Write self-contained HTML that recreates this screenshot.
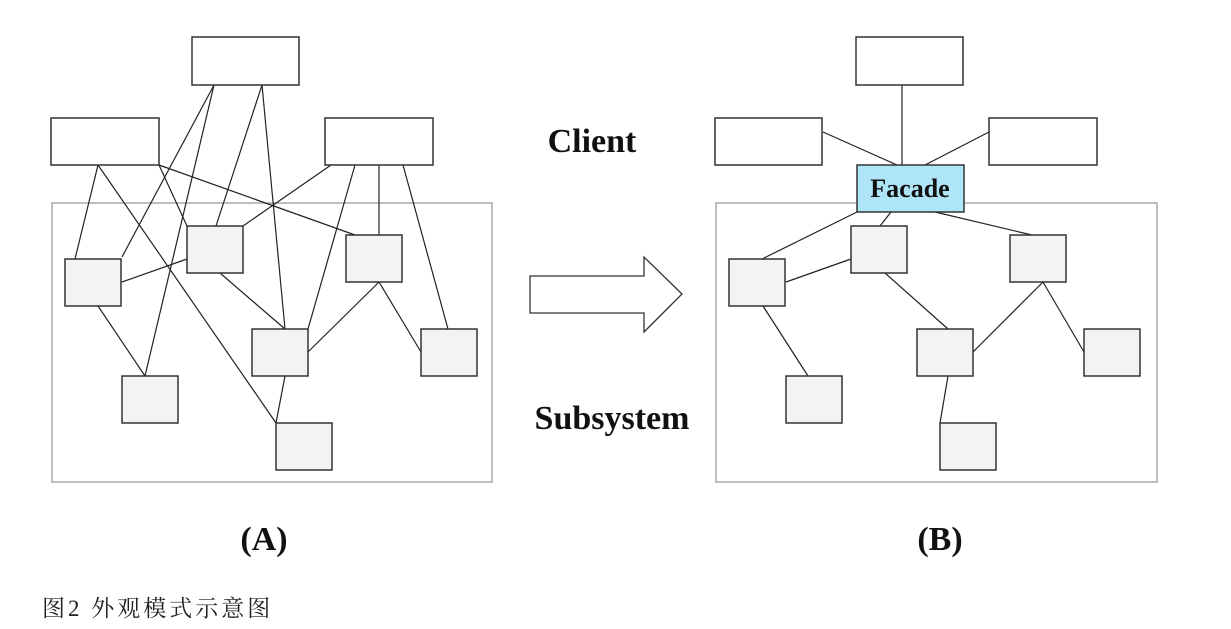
<!DOCTYPE html>
<html><head><meta charset="utf-8"><style>
html,body{margin:0;padding:0;background:#fff;}
svg{display:block}
</style></head><body>
<svg width="1231" height="629" xmlns="http://www.w3.org/2000/svg">
<g fill="none" stroke="#a8a8a8" stroke-width="1.5">
<rect x="52" y="203" width="440" height="279"/>
<rect x="716" y="203" width="441" height="279"/>
</g>
<g stroke="#222" stroke-width="1.2" fill="none">
<line x1="214" y1="85" x2="122" y2="257"/>
<line x1="214" y1="85" x2="145" y2="376"/>
<line x1="262" y1="85" x2="216" y2="226"/>
<line x1="262" y1="85" x2="285" y2="329"/>
<line x1="98" y1="165" x2="75" y2="259"/>
<line x1="98" y1="165" x2="276" y2="423"/>
<line x1="159" y1="165" x2="187" y2="226"/>
<line x1="159" y1="165" x2="355" y2="235"/>
<line x1="331" y1="165" x2="243" y2="226"/>
<line x1="355" y1="165" x2="308" y2="329"/>
<line x1="379" y1="165" x2="379" y2="235"/>
<line x1="403" y1="165" x2="448" y2="329"/>
<line x1="122" y1="282" x2="187" y2="259"/>
<line x1="98" y1="306" x2="145" y2="376"/>
<line x1="220" y1="273" x2="285" y2="329"/>
<line x1="379" y1="282" x2="308" y2="352"/>
<line x1="379" y1="282" x2="421" y2="352"/>
<line x1="285" y1="376" x2="276" y2="423"/>
<line x1="902" y1="85" x2="902" y2="165"/>
<line x1="823" y1="132" x2="897" y2="165"/>
<line x1="989" y1="132" x2="925" y2="165"/>
<line x1="857" y1="212" x2="762" y2="259"/>
<line x1="891" y1="212" x2="880" y2="226"/>
<line x1="935" y1="212" x2="1032" y2="235"/>
<line x1="786" y1="282" x2="851" y2="259"/>
<line x1="763" y1="306" x2="808" y2="376"/>
<line x1="885" y1="273" x2="948" y2="329"/>
<line x1="1043" y1="282" x2="973" y2="352"/>
<line x1="1043" y1="282" x2="1084" y2="352"/>
<line x1="948" y1="376" x2="940" y2="423"/>
</g>
<g stroke="#333" stroke-width="1.5" fill="#fff">
<rect x="192" y="37" width="107" height="48"/>
<rect x="51" y="118" width="108" height="47"/>
<rect x="325" y="118" width="108" height="47"/>
<rect x="856" y="37" width="107" height="48"/>
<rect x="715" y="118" width="107" height="47"/>
<rect x="989" y="118" width="108" height="47"/>
</g>
<g stroke="#333" stroke-width="1.5" fill="#f3f3f3">
<rect x="65" y="259" width="56" height="47"/>
<rect x="187" y="226" width="56" height="47"/>
<rect x="346" y="235" width="56" height="47"/>
<rect x="252" y="329" width="56" height="47"/>
<rect x="421" y="329" width="56" height="47"/>
<rect x="122" y="376" width="56" height="47"/>
<rect x="276" y="423" width="56" height="47"/>
<rect x="729" y="259" width="56" height="47"/>
<rect x="851" y="226" width="56" height="47"/>
<rect x="1010" y="235" width="56" height="47"/>
<rect x="917" y="329" width="56" height="47"/>
<rect x="1084" y="329" width="56" height="47"/>
<rect x="786" y="376" width="56" height="47"/>
<rect x="940" y="423" width="56" height="47"/>
</g>
<rect x="857" y="165" width="107" height="47" fill="#aee6f8" stroke="#333" stroke-width="1.5"/>
<text x="910" y="197" text-anchor="middle" font-family="Liberation Serif, serif" font-weight="bold" font-size="26" fill="#111">Facade</text>
<polygon points="530,276 644,276 644,257 682,294 644,332 644,313 530,313" fill="#fff" stroke="#333" stroke-width="1.3"/>
<g font-family="Liberation Serif, serif" font-weight="bold" fill="#111">
<text x="592" y="152" text-anchor="middle" font-size="34">Client</text>
<text x="612" y="429" text-anchor="middle" font-size="34">Subsystem</text>
<text x="264" y="550" text-anchor="middle" font-size="34">(A)</text>
<text x="940" y="550" text-anchor="middle" font-size="34">(B)</text>
</g>
<text x="42" y="616" font-family="Liberation Serif, Noto Serif CJK SC, serif" font-size="23" letter-spacing="3" fill="#222">图2 外观模式示意图</text>
</svg>
</body></html>
